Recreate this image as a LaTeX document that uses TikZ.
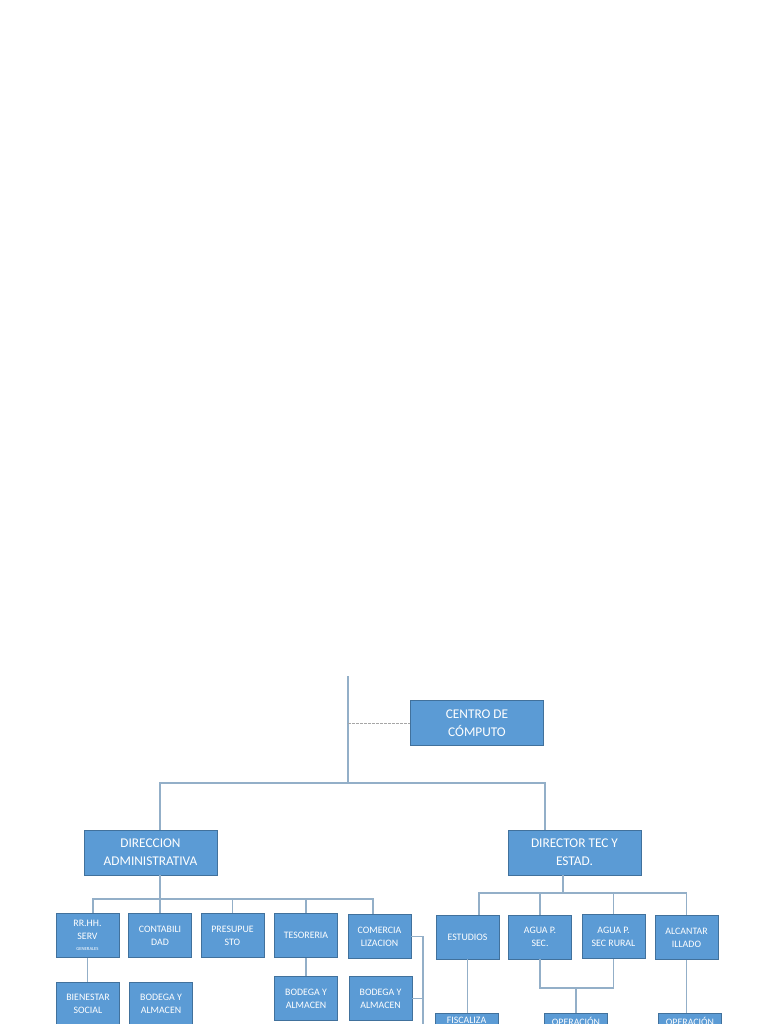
\documentclass[tikz,border=0pt]{standalone}
\usepackage{fontspec}
\setmainfont{Carlito}
\definecolor{boxblue}{HTML}{5B9BD5}
\definecolor{boxline}{HTML}{41719C}
\definecolor{linkgray}{HTML}{93AFC8}
\tikzset{
  box/.style={draw=boxline, fill=boxblue, text=white, align=center, inner sep=1pt, line width=0.6pt},
  big/.style={box, minimum width=99.75pt, minimum height=33.75pt, font=\fontsize{10}{13.5}\selectfont},
  small/.style={box, minimum width=47.25pt, minimum height=33pt, font=\fontsize{7.4}{10}\selectfont},
  cut/.style={small, anchor=north, minimum height=0pt, inner ysep=3pt},
  link/.style={draw=linkgray, line width=1.1pt},
  dashline/.style={draw=gray!70, line width=0.4pt, dash pattern=on 2pt off 1pt},
}
\begin{document}
\begin{tikzpicture}[x=0.75pt,y=-0.75pt]
    \clip (0,0) rectangle (768,1024);
    \fill[white] (0,0) rectangle (768,1024);

    \node[big] (cc) at (477,723) {CENTRO DE\\CÓMPUTO};
    \node[big] (da) at (150.5,852.5) {DIRECCION\\ADMINISTRATIVA};
    \node[big] (dte) at (574.5,852.5) {DIRECTOR TEC Y\\ESTAD.};

    \node[small] (rrhh) at (87.5,935.5) {RR.HH.\\SERV\\[-2pt]{\fontsize{3.5}{4}\selectfont GENERALES}};
    \node[small] (cont) at (160,935.5) {CONTABILI\\DAD};
    \node[small] (pres) at (232.5,935.5) {PRESUPUE\\STO};
    \node[small] (teso) at (306,935.5) {TESORERIA};
    \node[small] (come) at (379.5,936.5) {COMERCIA\\LIZACION};
    \node[small] (estu) at (467.5,937) {ESTUDIOS};
    \node[small] (aguas) at (540,937) {AGUA P.\\SEC.};
    \node[small] (aguar) at (613.5,936.5) {AGUA P.\\SEC RURAL};
    \node[small] (alca) at (686.5,937.5) {ALCANTAR\\ILLADO};

    \node[small] (bien) at (88,1004) {BIENESTAR\\SOCIAL};
    \node[small] (bod1) at (161,1004) {BODEGA Y\\ALMACEN};
    \node[small] (bod2) at (306,998.5) {BODEGA Y\\ALMACEN};
    \node[small] (bod3) at (380.5,998.5) {BODEGA Y\\ALMACEN};

    \node[cut] (fisc) at (466.5,1013) {FISCALIZA\\CIÓN};
    \node[cut] (oper1) at (576,1013) {OPERACIÓN\\Y MANT.};
    \node[cut] (oper2) at (690,1013) {OPERACIÓN\\Y MANT.};

    \coordinate (top) at (348,676);
    \coordinate (tl) at (160,783);
    \coordinate (tr) at (545,783);
    \coordinate (lb) at (93,899);
    \coordinate (lbe) at (373,899);
    \coordinate (dj) at (563,893);
    \coordinate (rb) at (479,893);
    \coordinate (cr) at (423,1030);
    \coordinate (aj) at (576,988);

    \draw[link] (top) -- (top |- tl);
    \draw[link] (tl |- da.north) -- (tl) -- (tr) -- (tr |- dte.north);
    \draw[dashline] (top |- cc.west) -- (cc.west);

    \draw[link] (da.south -| cont.north) -- (cont.north);
    \draw[link] (lb |- rrhh.north) -- (lb) -- (lbe) -- (lbe |- come.north);
    \foreach \n in {pres,teso}
        \draw[link] (\n.north |- lb) -- (\n.north);
    \draw[link] (rrhh.south) -- (rrhh.south |- bien.north);
    \draw[link] (teso.south) -- (bod2.north);
    \draw[link] (come.east) -| (cr);
    \draw[link] (bod3.east) -- (bod3.east -| cr);

    \draw[link] (dj |- dte.south) -- (dj);
    \draw[link] (rb |- estu.north) -- (rb) -- (alca.north |- dj);
    \foreach \n in {aguas,aguar,alca}
        \draw[link] (\n.north |- dj) -- (\n.north);
    \draw[link] (estu.south) -- (estu.south |- fisc.north);
    \draw[link] (aguas.south) |- (aj) -| (aguar.south);
    \draw[link] (aj) -- (oper1.north);
    \draw[link] (alca.south) -- (alca.south |- oper2.north);
\end{tikzpicture}
\end{document}
